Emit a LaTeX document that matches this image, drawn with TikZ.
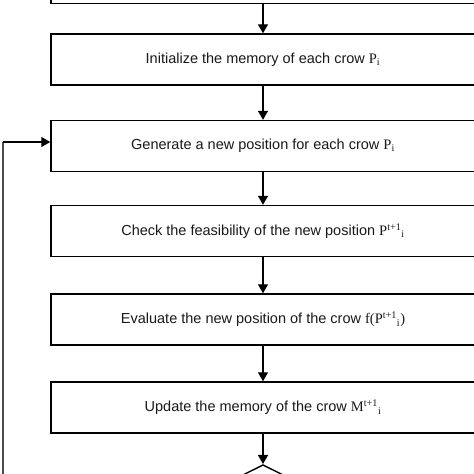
\documentclass[tikz,border=0pt]{standalone}
\usepackage{fontspec}
\setmainfont{Liberation Sans}
\newfontfamily\serifmath{Liberation Serif}
\usetikzlibrary{shapes.geometric,arrows.meta}
\newcommand{\sym}[1]{{\serifmath\fontsize{14.5}{16}\selectfont #1}}
\begin{document}
\begin{tikzpicture}[x=1pt,y=1pt,
  stepbox/.style={draw=black, line width=1.4pt, fill=white, minimum width=424pt, minimum height=51pt, inner sep=0pt, font=\fontsize{14.5}{17}\selectfont, text=black!90},
  decbox/.style={draw=black, line width=1.4pt, diamond, aspect=2, minimum width=120pt, minimum height=60pt, inner sep=0pt},
  arr/.style={line width=1.2pt, -{Triangle[length=9pt,width=10pt]}},
  loopline/.style={line width=1.6pt, draw=black!70}]
\useasboundingbox (0,0) rectangle (474,474);
\clip (0,0) rectangle (474,474);
\node[stepbox] (top) at (263,496) {};
\node[stepbox] (init) at (263,414.5) {Initialize the memory of each crow \sym{P\textsubscript{i}}};
\node[stepbox] (gen) at (263,328) {Generate a new position for each crow \sym{P\textsubscript{i}}};
\node[stepbox] (check) at (263,243) {Check the feasibility of the new position \sym{P\textsuperscript{t+1}\textsubscript{i}}};
\node[stepbox] (eval) at (263,154.5) {Evaluate the new position of the crow \sym{f(P\textsuperscript{t+1}\textsubscript{i})}};
\node[stepbox] (upd) at (263,66.5) {Update the memory of the crow \sym{M\textsuperscript{t+1}\textsubscript{i}}};
\node[decbox, anchor=north] (dec) at (263,10) {};
\coordinate (lb) at (3,-20);
\draw[arr] (top) -- (init);
\draw[arr] (init) -- (gen);
\draw[arr] (gen) -- (check);
\draw[arr] (check) -- (eval);
\draw[arr] (eval) -- (upd);
\draw[arr] (upd) -- (dec);
\draw[loopline] (lb) -- (3,332);
\draw[arr] (3,332) -- ([yshift=4pt]gen.west);
\end{tikzpicture}
\end{document}
